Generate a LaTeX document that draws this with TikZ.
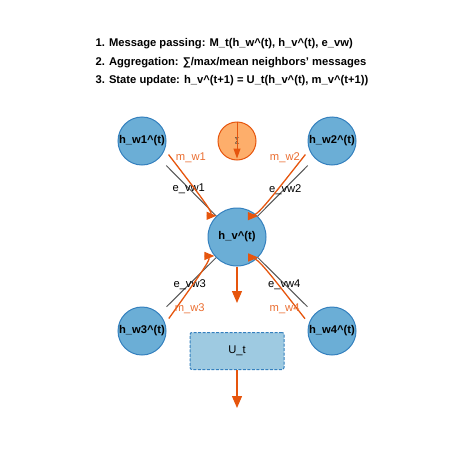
\documentclass[tikz,border=0pt]{standalone}
\usepackage{fontspec}
\setmainfont{Liberation Sans}
\usepackage{tikz}
\usetikzlibrary{arrows.meta,positioning,shapes.geometric}

\definecolor{nodeblue}{RGB}{107,174,214}
\definecolor{edgeblue}{RGB}{52,128,190}
\definecolor{boxblue}{RGB}{158,202,225}
\definecolor{msgorange}{RGB}{230,85,13}
\definecolor{sumorange}{RGB}{253,174,107}
\definecolor{edgegray}{RGB}{85,85,85}

\begin{document}
\begin{tikzpicture}[
  x=1pt, y=-1pt,
  every node/.style={font=\fontsize{11.2}{13}\selectfont},
  title/.style={anchor=west,font=\fontsize{11.2}{13}\selectfont\bfseries},
  nbr/.style={draw=edgeblue,circle,fill=nodeblue,line width=1pt,inner sep=0pt,
              minimum size=48pt,font=\fontsize{11.2}{13}\selectfont\bfseries},
  center/.style={nbr,minimum size=58pt},
  agg/.style={draw=msgorange,circle,fill=sumorange,line width=1pt,inner sep=0pt,
              minimum size=38pt,font=\fontsize{7}{8}\selectfont,text=black!80},
  update/.style={draw=edgeblue,dash pattern=on 3pt off 1.5pt,rounded corners=2pt,
                 fill=boxblue,line width=1pt,minimum width=94pt,minimum height=37pt},
  edge/.style={draw=edgegray,line width=1pt},
  msg/.style={draw=msgorange,line width=1.3pt,-{Triangle[length=10pt,width=8pt]}},
  flow/.style={draw=msgorange,line width=1.3pt,-{Triangle[length=12pt,width=10pt]}},
  lblm/.style={text=msgorange!85}
]
\useasboundingbox (0,0) rectangle (474,474);

% steps
\node[title] (t1) at (92,44) {1. Message passing: M\_t(h\_w\textasciicircum(t), h\_v\textasciicircum(t), e\_vw)};
\node[title] (t2) at (92,62.5) {2. Aggregation: ∑/max/mean neighbors' messages};
\node[title] (t3) at (92,81) {3. State update: h\_v\textasciicircum(t+1) = U\_t(h\_v\textasciicircum(t), m\_v\textasciicircum(t+1))};

% graph
\node[center] (hv) at (237,237) {h\_v\textasciicircum(t)};
\node[nbr] (hw1) at (142,141) {h\_w1\textasciicircum(t)};
\node[nbr] (hw2) at (332,141) {h\_w2\textasciicircum(t)};
\node[nbr] (hw3) at (142,331) {h\_w3\textasciicircum(t)};
\node[nbr] (hw4) at (332,331) {h\_w4\textasciicircum(t)};
\node[agg] (sum) at (237,141) {∑};
\node[update] (ut) at (237,351) {U\_t};
\coordinate (vout) at (237,303);
\coordinate (uout) at (237,408);

% edge features
\draw[edge,shorten <=10pt] (hw1) -- (hv) node[midway,xshift=1pt,yshift=-2pt] {e\_vw1};
\draw[edge,shorten <=10pt] (hw2) -- (hv) node[midway,xshift=-1pt,yshift=-2pt] {e\_vw2};
\draw[edge,shorten <=10pt] (hw3) -- (hv) node[midway,xshift=2pt,yshift=1pt] {e\_vw3};
\draw[edge,shorten <=10pt] (hw4) -- (hv) node[midway,xshift=-2pt,yshift=1pt] {e\_vw4};

% messages
\draw[msg,shorten <=6pt] (hw1.-21) .. controls +(0,0) and +(-1,0) .. (hv.134)
  node[lblm,pos=0.215,xshift=20pt] {m\_w1};
\draw[msg,shorten <=6pt] (hw2.201) .. controls +(0,0) and +(-1,0) .. (hv.45)
  node[lblm,pos=0.215,xshift=-18pt] {m\_w2};
\draw[msg,shorten <=6pt] (hw3.18) .. controls +(0,0) and +(-1,0) .. (hv.-140)
  node[lblm,pos=0.3,xshift=14pt] {m\_w3};
\draw[msg,shorten <=6pt] (hw4.162) .. controls +(0,0) and +(-1,0) .. (hv.-44)
  node[lblm,pos=0.3,xshift=-13pt] {m\_w4};

% aggregation and update
\draw[flow,-{Triangle[length=10pt,width=7pt]},line width=1pt] (sum.north) -- ([yshift=2pt]sum.south);
\draw[flow] (hv) -- (vout);
\draw[flow] (ut) -- (uout);
\end{tikzpicture}
\end{document}
